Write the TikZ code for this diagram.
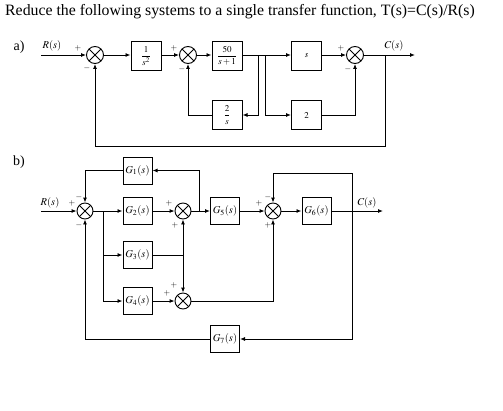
\documentclass[tikz,border=0pt]{standalone}
\usepackage{mathptmx}
\usepackage{fontspec}
\setmainfont{Liberation Serif}
\usetikzlibrary{arrows.meta,positioning}
\tikzstyle{block} = [draw, line width=1pt, minimum width=30pt, minimum height=29pt, inner sep=0pt, font=\fontsize{9}{10}\selectfont]
\tikzstyle{gblock} = [block, minimum width=29pt, minimum height=27pt, font=\fontsize{10.5}{11}\selectfont]
\tikzstyle{sumx} = [draw, circle, line width=0.9pt, minimum size=17pt, inner sep=0pt,
  path picture={\draw[line width=0.9pt] (path picture bounding box.south west) -- (path picture bounding box.north east)
    (path picture bounding box.north west) -- (path picture bounding box.south east);}]
\tikzstyle{sign} = [font=\fontsize{8.5}{9}\selectfont, inner sep=0pt]
\tikzstyle{sig} = [font=\fontsize{10.5}{11}\selectfont, inner sep=0pt]
\tikzstyle{wire} = [line width=0.9pt, -{Latex[length=5pt,width=4pt]}]
\tikzstyle{line} = [line width=0.9pt]

\begin{document}
\begin{tikzpicture}[x=1pt,y=-1pt]
  \useasboundingbox (0,0) rectangle (503,410);
  \node[anchor=west, inner sep=0pt, font=\fontsize{15.8}{17}\selectfont] (title) at (5,12)
    {Reduce the following systems to a single transfer function, T(s)=C(s)/R(s)};

  % part a
  \node[font=\fontsize{14}{15}\selectfont] (la) at (19,47) {a)};
  \node[sumx] (sa1) at (95,55) {};
  \node[sumx] (sa2) at (188,55) {};
  \node[sumx] (sa3) at (355,55) {};
  \node[block] (a1) at (146,56) {$\displaystyle\frac{1}{s^2}$};
  \node[block] (a2) at (227,56) {$\displaystyle\frac{50}{s+1}$};
  \node[block] (a3) at (306.5,56) {$s$};
  \node[block] (a4) at (227,115) {$\displaystyle\frac{2}{s}$};
  \node[block] (a5) at (306.5,115) {$2$};
  \coordinate (ain) at (41,55);
  \coordinate (aout) at (415,55);
  \coordinate (ab1) at (258,55);
  \coordinate (ab2) at (265,55);
  \coordinate (ac) at (385,55);
  \coordinate (afb) at (385,146);
  \node[sig] (rsa) at (52,46) {$R(s)$};
  \node[sig] (csa) at (394,46) {$C(s)$};

  \draw[wire] (ain) -- (sa1);
  \draw[wire] (sa1) -- (a1.west |- sa1);
  \draw[wire] (a1.east |- sa1) -- (sa2);
  \draw[wire] (sa2) -- (a2.west |- sa2);
  \draw[wire] (a2.east |- sa2) -- (a3.west |- sa2);
  \draw[wire] (ab1) |- (a4.east);
  \draw[wire] (ab2) |- (a5.west);
  \draw[wire] (a4.west) -| (sa2.south);
  \draw[wire] (a5.east) -| (sa3.south);
  \draw[wire] (a3.east |- sa3) -- (sa3);
  \draw[wire] (sa3) -- (aout);
  \draw[wire] (ac) -- (afb) -| (sa1.south);

  \node[sign] at (78,48) {$+$};
  \node[sign] at (87,68) {$-$};
  \node[sign] at (174,48) {$+$};
  \node[sign] at (182,69) {$-$};
  \node[sign] at (341,48) {$+$};
  \node[sign] at (348,69) {$-$};

  % part b
  \node[font=\fontsize{14}{15}\selectfont] (lb) at (19,162) {b)};
  \node[sumx, minimum size=16pt] (sb1) at (85,211) {};
  \node[sumx, minimum size=16pt] (sb2) at (183,211) {};
  \node[sumx, minimum size=16pt] (sb3) at (273,211) {};
  \node[sumx, minimum size=16pt] (sb4) at (183,301) {};
  \node[gblock] (g1) at (137.5,170.5) {$G_1(s)$};
  \node[gblock] (g2) at (137.5,211) {$G_2(s)$};
  \node[gblock] (g3) at (137.5,255) {$G_3(s)$};
  \node[gblock] (g4) at (137.5,301) {$G_4(s)$};
  \node[gblock] (g5) at (225,211) {$G_5(s)$};
  \node[gblock] (g6) at (316.5,211) {$G_6(s)$};
  \node[gblock] (g7) at (225,339) {$G_7(s)$};
  \coordinate (bin) at (41,211);
  \coordinate (bout) at (383,211);
  \coordinate (p1) at (103,211);
  \coordinate (q1) at (199,211);
  \coordinate (r1) at (183,255);
  \coordinate (t1) at (352,211);
  \node[sig] (rsb) at (50,203) {$R(s)$};
  \node[sig] (csb) at (367,203) {$C(s)$};

  \draw[wire] (bin) -- (sb1);
  \draw[wire] (sb1) -- (g2);
  \draw[wire] (p1) |- (g3);
  \draw[wire] (p1) |- (g4);
  \draw[wire] (g2) -- (sb2);
  \draw[wire] (sb2) -- (g5);
  \draw[wire] (q1) |- (g1);
  \draw[wire] (g1) -| (sb1.north);
  \draw[line] (g3) -- (r1);
  \draw[wire] (r1) -- (sb2.south);
  \draw[wire] (r1) -- (sb4.north);
  \draw[wire] (g4) -- (sb4);
  \draw[wire] (sb4) -| (sb3.south);
  \draw[wire] (g5) -- (sb3);
  \draw[wire] (sb3) -- (g6);
  \draw[wire] (g6) -- (bout);
  \draw[wire] (t1) -- (352,173) -| (sb3.north);
  \draw[wire] (t1) |- (g7);
  \draw[wire] (g7) -| (sb1.south);

  \node[sign] at (72,203) {$+$};
  \node[sign] at (79,197) {$-$};
  \node[sign] at (79,225) {$-$};
  \node[sign] at (169,203) {$+$};
  \node[sign] at (175,225) {$+$};
  \node[sign] at (259,203) {$+$};
  \node[sign] at (268,197) {$-$};
  \node[sign] at (268,225) {$+$};
  \node[sign] at (167,293) {$+$};
  \node[sign] at (174,285) {$+$};
\end{tikzpicture}
\end{document}
